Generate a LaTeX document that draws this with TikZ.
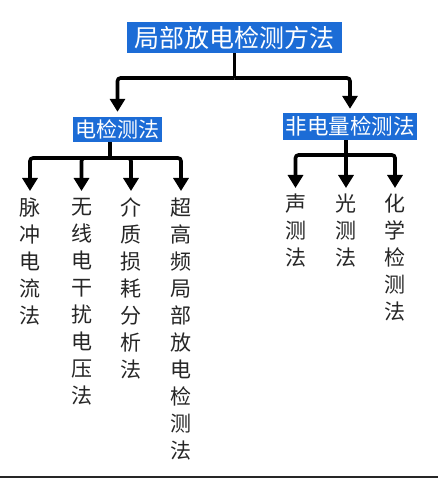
\documentclass[tikz,border=0pt]{standalone}
\usepackage{fontspec}
\setmainfont{Noto Sans CJK SC}
\usetikzlibrary{arrows.meta}
\definecolor{boxblue}{RGB}{28,108,214}
\begin{document}
\begin{tikzpicture}[x=1pt,y=-1pt,
  hdr/.style={fill=boxblue,text=white,inner sep=0pt,align=center},
  vert/.style={anchor=north,inner sep=0pt,align=center,font=\fontsize{21}{27}\selectfont,text=black!85},
  arr/.style={draw=black,line width=3.6pt,rounded corners=3pt,-{Triangle[width=15pt,length=13pt]}},
  stem/.style={draw=black,line width=3.6pt,rounded corners=3pt}]
\useasboundingbox (0,0) rectangle (438,478);
\fill[white] (0,0) rectangle (438,478);
\draw[line width=2pt,black!85] (0,476.5) -- (438,476.5);
% headers
\node[hdr,minimum width=215pt,minimum height=31pt,font=\fontsize{25}{25}\selectfont] (t) at (234.5,37.5) {局部放电检测方法};
\node[hdr,minimum width=89pt,minimum height=25pt,font=\fontsize{21}{21}\selectfont] (l) at (117.5,129.5) {电检测法};
\node[hdr,minimum width=134pt,minimum height=27pt,font=\fontsize{21.5}{21.5}\selectfont] (r) at (350,126.5) {非电量检测法};
% leaves
\node[vert] (a1) at (30,198) {脉\\冲\\电\\流\\法};
\node[vert] (a2) at (81.5,198) {无\\线\\电\\干\\扰\\电\\压\\法};
\node[vert] (a3) at (131,198) {介\\质\\损\\耗\\分\\析\\法};
\node[vert] (a4) at (181,198) {超\\高\\频\\局\\部\\放\\电\\检\\测\\法};
\node[vert] (b1) at (295.5,194) {声\\测\\法};
\node[vert] (b2) at (346,194) {光\\测\\法};
\node[vert] (b3) at (395,194) {化\\学\\检\\测\\法};
% connectors
\coordinate (tj) at (234.5,78);
\draw[stem] (t.south) -- (tj);
\draw[arr] (tj) -| ([yshift=5pt]l.north);
\draw[arr] (tj) -| ([yshift=4pt]r.north);
\coordinate (lj) at (110,158);
\draw[stem] (l.south -| lj) -- (lj);
\foreach \c in {a1,a2,a3,a4}{\draw[arr] (lj) -| ([yshift=7pt]\c.north);}
\coordinate (rj) at (346,155);
\draw[stem] (r.south -| rj) -- (rj);
\foreach \c in {b1,b2,b3}{\draw[arr] (rj) -| ([yshift=6pt]\c.north);}
\end{tikzpicture}
\end{document}
